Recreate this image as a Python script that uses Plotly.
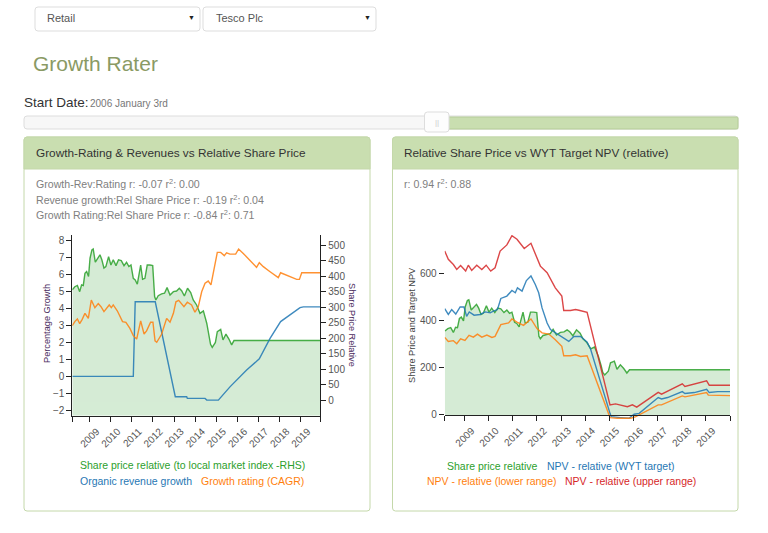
"""
Growth Rater dashboard: growth rating and revenues vs relative share price,
and relative share price vs target NPV
"""
import plotly.graph_objects as go

W, H = 768, 533

YEARS = list(range(2009, 2020))
YEAR_LABELS = [str(y) for y in YEARS]

share_x = [2008.18, 2008.30, 2008.42, 2008.53, 2008.62, 2008.70, 2008.78, 2008.86, 2008.95, 2009.02, 2009.11,
           2009.17, 2009.27, 2009.38, 2009.49, 2009.58, 2009.68, 2009.77, 2009.90, 2010.01, 2010.12, 2010.25,
           2010.37, 2010.50, 2010.63, 2010.75, 2010.86, 2010.96, 2011.07, 2011.16, 2011.26, 2011.42, 2011.51,
           2011.62, 2011.73, 2011.86, 2011.99, 2012.08, 2012.14, 2012.25, 2012.41, 2012.55, 2012.67, 2012.81,
           2012.97, 2013.12, 2013.25, 2013.36, 2013.49, 2013.64, 2013.79, 2013.91, 2014.07, 2014.23, 2014.39,
           2014.55, 2014.66, 2014.73, 2014.81, 2014.96, 2015.05, 2015.21, 2015.32, 2015.46, 2015.60, 2015.73,
           2015.84, 2020.01]
share_y = [356, 366, 370, 350, 372, 370, 409, 415, 399, 458, 485, 488, 445, 458, 469, 453, 426, 431, 463, 436,
           453, 434, 453, 450, 434, 445, 431, 436, 393, 388, 374, 436, 390, 393, 436, 436, 434, 334, 323, 337,
           343, 345, 363, 339, 350, 352, 361, 353, 336, 361, 347, 323, 307, 280, 288, 248, 210, 180, 170, 186,
           221, 228, 194, 213, 197, 178, 192, 192]

rating_x = [2008.18, 2008.30, 2008.42, 2008.53, 2008.65, 2008.78, 2008.94, 2009.08, 2009.25, 2009.41, 2009.54,
            2009.68, 2009.93, 2010.03, 2010.12, 2010.31, 2010.56, 2010.72, 2010.91, 2011.07, 2011.23, 2011.42,
            2011.58, 2011.70, 2011.89, 2012.00, 2012.10, 2012.18, 2012.41, 2012.65, 2012.81, 2012.97, 2013.09,
            2013.22, 2013.47, 2013.63, 2013.83, 2013.99, 2014.15, 2014.31, 2014.47, 2014.62, 2014.75, 2014.89,
            2015.05, 2015.21, 2015.38, 2015.49, 2015.65, 2015.92, 2016.06, 2016.28, 2016.60, 2016.91, 2017.04,
            2017.23, 2017.55, 2017.94, 2018.05, 2018.42, 2018.81, 2018.94, 2019.05, 2020.01]
rating_y = [2.99, 3.23, 3.38, 3.11, 3.36, 3.72, 3.42, 4.50, 4.05, 4.29, 4.11, 3.82, 4.21, 4.05, 4.21, 3.87, 3.23,
            3.19, 2.83, 2.40, 2.20, 3.27, 2.50, 2.68, 3.19, 3.19, 2.09, 2.01, 2.48, 3.42, 3.19, 3.72, 4.40, 4.48,
            4.11, 4.37, 4.21, 3.78, 4.11, 4.99, 5.49, 5.62, 5.39, 6.37, 7.31, 7.31, 7.12, 7.29, 7.21, 7.21, 7.51,
            7.25, 6.86, 6.43, 6.70, 6.47, 6.17, 5.82, 6.11, 5.94, 5.72, 5.72, 6.11, 6.11]

revenue_x = [2008.18, 2011.07, 2011.16, 2012.11, 2013.06, 2013.60, 2013.63, 2014.47, 2014.55, 2015.10, 2015.65,
             2016.44, 2017.04, 2017.55, 2018.05, 2018.42, 2018.97, 2019.13, 2020.01]
revenue_y = [0, 0, 4.40, 4.40, -1.2, -1.2, -1.3, -1.3, -1.4, -1.4, -0.62, 0.37, 1.03, 2.24, 3.23, 3.58, 4.05,
             4.10, 4.10]

npv_x = [2008.17, 2008.32, 2008.46, 2008.63, 2008.81, 2008.97, 2009.08, 2009.19, 2009.39, 2009.64, 2009.85,
         2010.06, 2010.19, 2010.36, 2010.50, 2010.75, 2010.96, 2011.10, 2011.19, 2011.38, 2011.56, 2011.75,
         2011.93, 2012.07, 2012.21, 2012.42, 2012.56, 2012.76, 2012.97, 2013.32, 2013.53, 2013.81, 2014.08,
         2014.22, 2015.03, 2015.08, 2015.47, 2015.82, 2016.03, 2016.24, 2017.03, 2017.17, 2017.42, 2018.03,
         2018.14, 2018.53, 2019.04, 2019.15, 2019.50, 2020.01]
npv_y = [451, 426, 447, 428, 458, 458, 418, 437, 423, 426, 437, 433, 440, 447, 494, 504, 528, 518, 539, 525, 570,
         589, 553, 518, 454, 390, 362, 348, 333, 312, 333, 333, 309, 281, 7, -7, -11, -14, 3, 7, 74, 68, 74, 99,
         91, 95, 109, 95, 99, 99]

lower_x = [2008.17, 2008.32, 2008.53, 2008.67, 2008.83, 2009.01, 2009.18, 2009.36, 2009.53, 2009.71, 2009.92,
           2010.13, 2010.26, 2010.50, 2010.82, 2010.96, 2011.17, 2011.44, 2011.75, 2012.00, 2012.21, 2012.49,
           2012.76, 2013.03, 2013.11, 2013.39, 2013.60, 2013.81, 2014.08, 2015.03, 2015.33, 2015.89, 2016.10,
           2017.03, 2017.17, 2018.03, 2018.14, 2019.04, 2019.11, 2020.01]
lower_y = [329, 312, 315, 302, 323, 316, 338, 330, 343, 330, 339, 329, 333, 383, 390, 407, 394, 380, 407, 366,
           348, 343, 319, 291, 251, 251, 255, 248, 251, -11, -14, -14, -7, 43, 43, 81, 77, 95, 84, 82]

upper_x = [2008.17, 2008.32, 2008.53, 2008.67, 2008.83, 2009.04, 2009.15, 2009.29, 2009.50, 2009.71, 2009.89,
           2010.08, 2010.26, 2010.47, 2010.75, 2010.96, 2011.17, 2011.47, 2011.75, 2011.93, 2012.14, 2012.42,
           2012.76, 2013.03, 2013.11, 2013.39, 2013.60, 2013.74, 2014.08, 2015.03, 2015.26, 2015.75, 2015.96,
           2016.14, 2017.03, 2017.17, 2018.03, 2018.14, 2019.04, 2019.15, 2020.01]
upper_y = [695, 660, 638, 617, 634, 610, 635, 613, 635, 617, 635, 610, 624, 695, 721, 760, 745, 706, 728, 684,
           631, 603, 539, 504, 443, 443, 447, 444, 435, 43, 47, 35, 43, 33, 96, 88, 132, 121, 145, 126, 126]

GREEN = '#2ca02c'
GREEN_LINE = 'rgba(44,160,44,0.85)'
BLUE = '#1f77b4'
ORANGE = '#ff7f0e'
RED = '#d62728'
AREA = 'rgba(44,160,44,0.2)'
HEADER = '#c9deb0'
BORDER = '#c4d8aa'
FONT = 'Liberation Sans'
TICK_SIZE = 10


def px(x):
    return x / W


def py(y):
    return 1 - y / H


def box(x0, y0, x1, y1, fill, line, r=3, top_only=False):
    # rectangulo redondeado en pixeles de pantalla
    bottom_r = 0 if top_only else r
    path = (f'M {px(x0 + r)} {py(y0)} L {px(x1 - r)} {py(y0)} Q {px(x1)} {py(y0)} {px(x1)} {py(y0 + r)} '
            f'L {px(x1)} {py(y1 - bottom_r)} Q {px(x1)} {py(y1)} {px(x1 - bottom_r)} {py(y1)} '
            f'L {px(x0 + bottom_r)} {py(y1)} Q {px(x0)} {py(y1)} {px(x0)} {py(y1 - bottom_r)} '
            f'L {px(x0)} {py(y0 + r)} Q {px(x0)} {py(y0)} {px(x0 + r)} {py(y0)} Z')
    return dict(type='path', path=path, xref='paper', yref='paper', fillcolor=fill,
                line=dict(color=line, width=1), layer='below')


def label(x, y, text, size=12, color='#333333', anchor='left', angle=0):
    return dict(x=px(x), y=py(y), xref='paper', yref='paper', text=text, showarrow=False, textangle=angle,
                xanchor=anchor, yanchor='middle', borderpad=0, borderwidth=0,
                font=dict(family=FONT, size=size, color=color))


def year_axis(start, end, domain, **kwargs):
    axis = dict(domain=domain, range=[start, end], tickmode='array', tickvals=YEARS, ticktext=YEAR_LABELS,
                tickangle=-45, ticks='outside', ticklen=5, tickcolor='#222222', showgrid=False, zeroline=False,
                showline=True, linecolor='#222222', linewidth=1, ticklabelshift=7,
                minor=dict(tickmode='array', tickvals=[start, end], ticks='outside', ticklen=5,
                           tickcolor='#222222', showgrid=False),
                tickfont=dict(family=FONT, size=TICK_SIZE, color='#555555'))
    axis.update(kwargs)
    return axis


def value_axis(domain, rng, side, tickvals, **kwargs):
    axis = dict(domain=domain, range=rng, side=side, tickvals=tickvals, ticks='outside', ticklen=5,
                tickcolor='#222222', showgrid=False, zeroline=False, showline=True, linecolor='#222222',
                linewidth=1, tickfont=dict(family=FONT, size=TICK_SIZE, color='#555555'))
    axis.update(kwargs)
    return axis


def line(x, y, color, name, xaxis, yaxis):
    return go.Scatter(x=x, y=y, mode='lines', name=name, xaxis=xaxis, yaxis=yaxis, opacity=0.85,
                      line=dict(color=color, width=1.4))


fig = go.Figure()

# Panel izquierdo: el precio relativo va en el eje base para quedar debajo de las lineas
rhs_bottom = -50.7
fig.add_trace(go.Scatter(x=[share_x[0], share_x[-1]], y=[rhs_bottom, rhs_bottom], mode='lines',
                         line=dict(width=0), xaxis='x', yaxis='y', hoverinfo='skip'))
fig.add_trace(go.Scatter(x=share_x, y=share_y, mode='lines', name='Share price relative (to local market index -RHS)',
                         line=dict(color=GREEN_LINE, width=1.4), fill='tonexty', fillcolor=AREA, xaxis='x', yaxis='y'))
fig.add_trace(line(revenue_x, revenue_y, BLUE, 'Organic revenue growth', 'x', 'y2'))
fig.add_trace(line(rating_x, rating_y, ORANGE, 'Growth rating (CAGR)', 'x', 'y2'))

# Panel derecho
fig.add_trace(go.Scatter(x=share_x, y=share_y, mode='lines', name='Share price relative',
                         line=dict(color=GREEN_LINE, width=1.4), fill='tozeroy', fillcolor=AREA,
                         xaxis='x2', yaxis='y3'))
fig.add_trace(line(npv_x, npv_y, BLUE, 'NPV - relative (WYT target)', 'x2', 'y3'))
fig.add_trace(line(lower_x, lower_y, ORANGE, 'NPV - relative (lower range)', 'x2', 'y3'))
fig.add_trace(line(upper_x, upper_y, RED, 'NPV - relative (upper range)', 'x2', 'y3'))

shapes = [
    box(35, 7, 200, 31, 'white', '#dddddd'),
    box(203, 7, 376, 31, 'white', '#dddddd'),
    box(24, 116, 738, 129, '#f7f7f7', '#dddddd'),
    box(436, 117, 738, 129, HEADER, '#b5cc98', r=1),
    box(424.5, 112, 449, 132, '#fdfdfd', '#dddddd'),
    box(24, 137, 370, 511, 'white', BORDER),
    box(24, 137, 370, 169, HEADER, BORDER, top_only=True),
    box(392.5, 137, 738, 511, 'white', BORDER),
    box(392.5, 137, 738, 169, HEADER, BORDER, top_only=True),
]

annotations = [
    label(47, 18, 'Retail', 11, '#555555'),
    label(191, 18, '▼', 7, '#222222', 'center'),
    label(216, 18, 'Tesco Plc', 11, '#555555'),
    label(367.5, 18, '▼', 7, '#222222', 'center'),
    label(33, 63, 'Growth Rater', 21, '#8a9a64'),
    label(24, 102, 'Start Date:', 13.5, '#333333'),
    label(90, 103, '2006 January 3rd', 10, '#777777'),
    label(436.5, 122, '||', 8, '#cccccc', 'center'),
    label(36, 153, 'Growth-Rating &amp; Revenues vs Relative Share Price', 11.8),
    label(404, 153, 'Relative Share Price vs WYT Target NPV (relative)', 11.8),
    label(36, 184, 'Growth-Rev:Rating r: -0.07 r<sup>2</sup>: 0.00', 10.6, '#808080'),
    label(36, 199, 'Revenue growth:Rel Share Price r: -0.19 r<sup>2</sup>: 0.04', 10.6, '#808080'),
    label(36, 214, 'Growth Rating:Rel Share Price r: -0.84 r<sup>2</sup>: 0.71', 10.6, '#808080'),
    label(404, 184, 'r: 0.94 r<sup>2</sup>: 0.88', 10.6, '#808080'),
    label(47, 324, 'Percentage Growth', 9.2, '#4a2c5e', 'center', -90),
    label(352, 325, 'Share Price Relative', 9.2, '#4a2c5e', 'center', 90),
    label(412, 325, 'Share Price and Target NPV', 9.2, '#444444', 'center', -90),
    label(80, 465, 'Share price relative (to local market index -RHS)', 10.5, GREEN),
    label(80, 481, 'Organic revenue growth', 10.5, BLUE),
    label(201, 481, 'Growth rating (CAGR)', 10.5, ORANGE),
    label(447, 466, 'Share price relative', 10.5, GREEN),
    label(547, 466, 'NPV - relative (WYT target)', 10.5, BLUE),
    label(427, 481, 'NPV - relative (lower range)', 10.5, ORANGE),
    label(565, 481, 'NPV - relative (upper range)', 10.5, RED),
]

fig.update_layout(
    width=W,
    height=H,
    margin=dict(l=0, r=0, t=0, b=0, autoexpand=False),
    paper_bgcolor='white',
    plot_bgcolor='rgba(0,0,0,0)',
    showlegend=False,
    shapes=shapes,
    annotations=annotations,
    xaxis=year_axis(2008.18, 2019.93, [px(72.3), px(320.3)], anchor='y2'),
    # el eje x queda en y=0 y las lineas pueden bajar un poco por debajo
    xaxis2=year_axis(2008.17, 2020.01, [px(444.7), px(730)], anchor='free', position=py(415)),
    yaxis=value_axis([py(415.7), py(235)], [rhs_bottom, 533], 'right', list(range(0, 501, 50)), anchor='x'),
    yaxis2=value_axis([py(415.7), py(235)], [-2.32, 8.336], 'left', list(range(-2, 9)), anchor='x', overlaying='y'),
    yaxis3=value_axis([py(419.7), py(235)], [-20, 763], 'left', [0, 200, 400, 600], anchor='x2', showline=False),
)

fig.write_html('out.html', config={'displayModeBar': False},
               post_script="document.body.style.margin='0';document.body.style.overflow='hidden';")
